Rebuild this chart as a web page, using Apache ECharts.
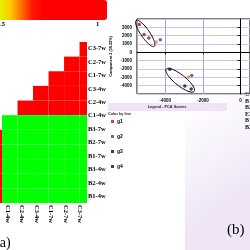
<!DOCTYPE html>
<html>
<head>
<meta charset="utf-8">
<script src="https://cdn.jsdelivr.net/npm/echarts@6/dist/echarts.min.js"></script>
<style>
html, body { margin: 0; padding: 0; background: #fff; }
#main { width: 250px; height: 250px; }
</style>
</head>
<body>
<div id="main"></div>
<script>
// (a) correlation heatmap
const rowLabels = ['C3-7w', 'C2-7w', 'C1-7w', 'C3-4w', 'C2-4w', 'C1-4w', 'B3-7w', 'B2-7w', 'B1-7w', 'B3-4w', 'B2-4w', 'B1-4w']
const colLabels = ['C1-4w', 'C2-4w', 'C3-4w', 'C1-7w', 'C2-7w', 'C3-7w']
// visible cells, top row first; first column is the one cut off at the left edge
const heatRows = [
    [null, null, null, null, null, null, 1],
    [null, null, null, null, null, 1, 1],
    [null, null, null, null, 1, 1, 1],
    [null, null, null, 1, 1, 1, 1],
    [null, null, 1, 1, 1, 1, 1],
    [null, 0, 0, 0, 0, 0, 0],
    [1, 0, 0, 0, 0, 0, 0],
    [1, 0, 0, 0, 0, 0, 0],
    [1, 0, 0, 0, 0, 0, 0],
    [1, 0, 0, 0, 0, 0, 0],
    [1, 0, 0, 0, 0, 0, 0]
]
const barLabels = ['0.5', '1']

// (b) PCA scores
const groupNames = ['g1', 'g2', 'g3', 'g4']
const groupColors = ['#8e1a1a', '#1f45d0', '#111111', '#e0861c']
const legendColors = ['#d81414', '#1f45d0', '#111111', '#111111']
const g1 = [[-5377, 3349], [-5123, 2153], [-4870, 1710]]
const g2 = [[-4263, 1519], [-2593, -2787]]
const g3 = [[-3757, -2033], [-2962, -4031], [-2623, -4390]]
const g4 = [[-4481, 1232], [-2760, -2955]]
const groups = [g1, g2, g3, g4]
// centre x, centre y, half long axis (dx, dy), half short axis (dx, dy)
const ellipses = [
    [-5063, 2273, 481, -1555, 182, 317],
    [-3206, -3349, 744, -1328, 167, 526]
]

const heatData = []
heatRows.forEach((row, r) => {
    row.forEach((v, c) => {
        if (v !== null) heatData.push([c, r, v])
    })
})

function renderCell(params, api) {
    const c = api.value(0)
    const r = api.value(1)
    const p0 = api.coord([c - 0.5, r - 0.5])
    const p1 = api.coord([c + 0.5, r + 0.5])
    const rect = echarts.graphic.clipRectByRect({
        x: Math.min(p0[0], p1[0]),
        y: Math.min(p0[1], p1[1]),
        width: Math.abs(p1[0] - p0[0]),
        height: Math.abs(p1[1] - p0[1])
    }, {
        x: params.coordSys.x,
        y: params.coordSys.y,
        width: params.coordSys.width,
        height: params.coordSys.height
    })
    return rect && {
        type: 'rect',
        shape: rect,
        style: { fill: api.visual('color') }
    }
}

function renderEllipse(params, api) {
    const cx = api.value(0), cy = api.value(1)
    const ux = api.value(2), uy = api.value(3)
    const vx = api.value(4), vy = api.value(5)
    const pts = []
    for (let k = 0; k <= 64; k++) {
        const t = k / 64 * Math.PI * 2
        pts.push(api.coord([cx + ux * Math.cos(t) + vx * Math.sin(t), cy + uy * Math.cos(t) + vy * Math.sin(t)]))
    }
    return {
        type: 'polygon',
        shape: { points: pts },
        style: { fill: 'none', stroke: '#000', lineWidth: 1 }
    }
}

const plain = (v) => String(v)
const tiny = { fontSize: 4.5, fontWeight: 'bold', color: '#000', fontFamily: 'Liberation Sans', formatter: plain }
const serifLabel = { fontSize: 6.5, fontWeight: 'bold', color: '#000', fontFamily: 'Liberation Serif' }

const chart = echarts.init(document.getElementById('main'))
chart.setOption({
    animation: false,
    visualMap: {
        type: 'continuous',
        seriesIndex: 0,
        dimension: 2,
        min: 0,
        max: 1,
        orient: 'horizontal',
        left: -107,
        top: 0,
        padding: 0,
        itemWidth: 20,
        itemHeight: 214,
        calculable: false,
        text: null,
        inRange: {
            color: ['#00ff00', '#10ff00', '#20ff00', '#30ff00', '#48ff00', '#60ff00', '#78fc00', '#90f800', '#a8f400', '#c4f200',
                '#e4f000', '#ffc800', '#ff7000', '#ff1800', '#ff0000', '#ff0000', '#ff0000', '#ff0000', '#ff0000', '#ff0000', '#ff0000']
        }
    },
    grid: [
        { left: 0, top: 42, width: 87, height: 161 },
        { left: 137, top: 19, right: -5, bottom: 156, show: true, borderColor: '#000', borderWidth: 1 }
    ],
    xAxis: [
        { type: 'value', gridIndex: 0, min: 0.37, max: 5.98, show: false },
        {
            type: 'category', gridIndex: 0, data: colLabels, position: 'bottom',
            axisLine: { show: false }, axisTick: { show: false }, splitLine: { show: false },
            axisLabel: Object.assign({ rotate: -90, margin: 2 }, serifLabel)
        },
        {
            type: 'value', gridIndex: 1, min: -5500, max: 500, splitNumber: 3,
            axisLine: { lineStyle: { color: '#000' } },
            axisTick: { length: 2, lineStyle: { color: '#000' } },
            axisLabel: Object.assign({ margin: 4, showMinLabel: false, showMaxLabel: false }, tiny),
            splitLine: { lineStyle: { color: '#a9a9bb' } }
        }
    ],
    yAxis: [
        { type: 'value', gridIndex: 0, min: -0.5, max: 10.5, inverse: true, show: false },
        {
            type: 'category', gridIndex: 0, data: rowLabels, inverse: true, position: 'right',
            axisLine: { show: false }, axisTick: { show: false }, splitLine: { show: false },
            axisLabel: Object.assign({ margin: 1 }, serifLabel)
        },
        {
            type: 'value', gridIndex: 1, min: -5000, max: 4000, interval: 1000,
            name: 'Component 2 (19.33%)', nameLocation: 'middle', nameGap: 24, nameRotate: 90,
            nameTextStyle: { fontSize: 3.8, fontWeight: 'bold', color: '#000' },
            axisLine: { show: true, lineStyle: { color: '#000' } },
            axisTick: { show: true, length: 3, lineStyle: { color: '#000' } },
            axisLabel: Object.assign({ margin: 5, showMinLabel: false, showMaxLabel: false }, tiny),
            splitLine: { lineStyle: { color: '#d6c2e8' } }
        }
    ],
    legend: {
        data: groupNames.map((n, i) => ({ name: n, itemStyle: { color: legendColors[i] } })),
        orient: 'vertical',
        left: 111,
        top: 119,
        padding: 0,
        itemWidth: 3,
        itemHeight: 3,
        itemGap: 10,
        icon: 'rect',
        textStyle: { fontSize: 5, fontWeight: 'bold', color: '#000', padding: [0, 0, 0, -2] }
    },
    graphic: [
        {
            type: 'rect', z: -10, silent: true,
            shape: { x: 185, y: 95, width: 65, height: 155 },
            style: {
                fill: new echarts.graphic.LinearGradient(0, 0, 1, 0.6, [
                    { offset: 0, color: 'rgba(244,237,249,0)' },
                    { offset: 1, color: '#efe5f6' }
                ])
            }
        },
        { type: 'rect', shape: { x: 108, y: 103, width: 119, height: 8 }, style: { fill: '#efe3f7' } },
        { type: 'text', x: 167, y: 107, style: { text: 'Legend - PCA Scores', fontSize: 3.8, fontWeight: 'bold', fill: '#222', align: 'center', verticalAlign: 'middle' } },
        { type: 'text', x: 108, y: 114, style: { text: 'Color by line', fontSize: 3.8, fontWeight: 'bold', fill: '#222', align: 'left', verticalAlign: 'middle' } },
        { type: 'text', z: 100, x: 5, y: 24, style: { text: barLabels[0], fontSize: 6.5, fontWeight: 'bold', fontFamily: 'Liberation Serif', fill: '#000', align: 'right', verticalAlign: 'middle' } },
        { type: 'text', z: 100, x: 97.5, y: 24, style: { text: barLabels[1], fontSize: 6.5, fontWeight: 'bold', fontFamily: 'Liberation Serif', fill: '#000', align: 'center', verticalAlign: 'middle' } },
        { type: 'text', x: 245, y: 111, style: { text: 'C1-4w\nB1-4w\nB2-4w\nE3-4w\nB1-7w\nB2-7w', fontSize: 6, lineHeight: 6.6, fontWeight: 'bold', fontFamily: 'Liberation Serif', fill: '#111', align: 'left', verticalAlign: 'middle' } },
        { type: 'text', x: -5, y: 243, style: { text: '(a)', fontSize: 14, fontFamily: 'Liberation Serif', fill: '#000', align: 'left', verticalAlign: 'middle' } },
        { type: 'text', x: 227, y: 230, style: { text: '(b)', fontSize: 15, fontFamily: 'Liberation Serif', fill: '#000', align: 'left', verticalAlign: 'middle' } }
    ],
    series: [
        {
            type: 'custom',
            xAxisIndex: 0,
            yAxisIndex: 0,
            data: heatData,
            encode: { x: 0, y: 1 },
            renderItem: renderCell
        },
        ...groupNames.map((name, i) => ({
            type: 'scatter',
            name: name,
            xAxisIndex: 2,
            yAxisIndex: 2,
            data: groups[i],
            symbolSize: 3.5,
            itemStyle: { color: groupColors[i] },
            z: 3
        })),
        {
            type: 'custom',
            xAxisIndex: 2,
            yAxisIndex: 2,
            data: ellipses,
            encode: { x: 0, y: 1 },
            silent: true,
            renderItem: renderEllipse
        }
    ]
})
</script>
</body>
</html>
